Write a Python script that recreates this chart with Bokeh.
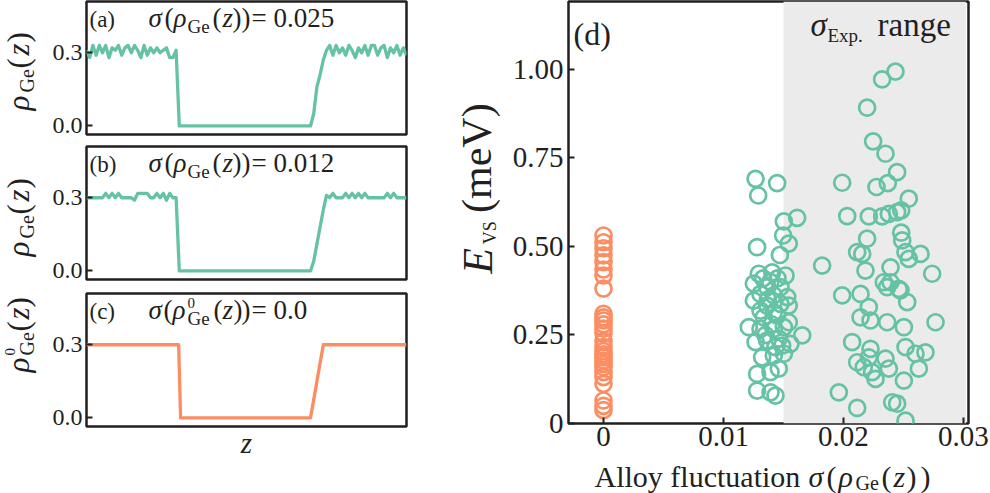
import math
from bokeh.plotting import figure
from bokeh.models import Range1d, FixedTicker, Label, BoxAnnotation
from bokeh.layouts import row, column
from bokeh.embed import file_html
from bokeh.resources import INLINE

TEAL = "#66c2a5"
ORANGE = "#fc8d62"
INK = "#231f20"
SHADE = "#ebebeb"
FONT = "Liberation Serif"

# ---------------- data: composition profiles (panels a-c) ----------------
z_prof = [0, 1, 2, 3, 4, 5, 6, 7, 8, 9, 10, 11, 12, 13, 14, 15, 16, 17, 18, 19,
          20, 21, 22, 23, 24, 25, 26, 27, 28, 29, 70, 71, 72, 73, 74,
          75, 76, 77, 78, 79, 80, 81, 82, 83, 84, 85, 86, 87, 88, 89, 90,
          91, 92, 93, 94, 95, 96, 97, 98, 99, 100]
rho_a = [0.31, 0.28, 0.33, 0.29, 0.33, 0.30, 0.33, 0.28, 0.32, 0.31, 0.33, 0.29, 0.32, 0.33,
         0.30, 0.33, 0.31, 0.28, 0.33, 0.29, 0.32, 0.30, 0.32, 0.30, 0.31, 0.32, 0.28, 0.28, 0.31,
         0.0, 0.0, 0.05, 0.16, 0.21, 0.27,
         0.31, 0.33, 0.29, 0.33, 0.30, 0.32, 0.29, 0.33, 0.31, 0.28, 0.32, 0.30, 0.33, 0.29,
         0.33, 0.33, 0.29, 0.32, 0.33, 0.28, 0.32, 0.30, 0.33, 0.29, 0.32, 0.29]
rho_b = [0.30, 0.30, 0.30, 0.30, 0.30, 0.30, 0.318, 0.30, 0.318, 0.30, 0.318, 0.30, 0.30, 0.30,
         0.30, 0.29, 0.318, 0.318, 0.318, 0.318, 0.30, 0.30, 0.318, 0.30, 0.318, 0.29, 0.318, 0.30, 0.30,
         0.0, 0.0, 0.04, 0.11, 0.18, 0.25,
         0.31, 0.30, 0.318, 0.30, 0.30, 0.30, 0.318, 0.30, 0.318, 0.30, 0.318, 0.30, 0.318, 0.30,
         0.30, 0.30, 0.30, 0.30, 0.30, 0.318, 0.30, 0.318, 0.30, 0.30, 0.30, 0.30]
z_clean = [0, 28.8, 29.4, 70, 74, 100]
rho_clean = [0.3, 0.3, 0.0, 0.0, 0.3, 0.3]
rho_ticks = [0.0, 0.3]
rho_tick_labels = ["0.0", "0.3"]

# ---------------- data: valley splitting vs alloy fluctuation (panel d) ----------------
evs_flat = [0.531, 0.512, 0.495, 0.475, 0.456, 0.435, 0.418, 0.381, 0.310, 0.300, 0.291, 0.280,
            0.268, 0.255, 0.232, 0.216, 0.205, 0.195, 0.187, 0.178, 0.168, 0.159, 0.145, 0.131,
            0.112, 0.065, 0.050, 0.038]
sig_flat = [0.0, 0.0, 0.0, 0.0, 0.0, 0.0, 0.0, 0.0, 0.0, 0.0, 0.0, 0.0, 0.0, 0.0,
            0.0, 0.0, 0.0, 0.0, 0.0, 0.0, 0.0, 0.0, 0.0, 0.0, 0.0, 0.0, 0.0, 0.0]

sig_fluct = [0.01267, 0.01447, 0.01289, 0.01503, 0.01614, 0.01497, 0.0128, 0.01544, 0.0147,
             0.01294, 0.01406, 0.01517, 0.01253, 0.01364, 0.01475, 0.01308, 0.01419, 0.01531,
             0.01253, 0.01364, 0.01475, 0.01544, 0.01308, 0.01419, 0.01336, 0.01447, 0.01544,
             0.01211, 0.01308, 0.01419, 0.01503, 0.01656, 0.01267, 0.01364, 0.01433, 0.01489,
             0.01558, 0.01322, 0.01419, 0.01503, 0.01461, 0.0128, 0.01392, 0.0128, 0.01392, 0.01433,
             0.0133, 0.0139, 0.0145, 0.0137, 0.0140, 0.0135, 0.0146,
             0.02433, 0.02322, 0.02197, 0.02247, 0.0235, 0.02447, 0.01989, 0.02275, 0.02369, 0.02544,
             0.02031, 0.02211, 0.02322, 0.02378, 0.02447, 0.02481, 0.02481, 0.02197, 0.02114, 0.02156,
             0.02489, 0.02517, 0.02544, 0.02642, 0.01822, 0.02392, 0.02739, 0.02336, 0.02392, 0.02364,
             0.02461, 0.02142, 0.01989, 0.02475, 0.02531, 0.02211, 0.02142, 0.02225, 0.02364, 0.02503,
             0.02767, 0.02072, 0.02225, 0.02517, 0.026, 0.02683, 0.02114, 0.02211, 0.0235, 0.02169,
             0.02239, 0.02378, 0.02628, 0.02267, 0.02503, 0.01961, 0.02406, 0.02447, 0.02114, 0.02517,
             0.02183]
evs_fluct = [0.691, 0.679, 0.644, 0.571, 0.581, 0.531, 0.498, 0.508, 0.476,
             0.423, 0.427, 0.418, 0.395, 0.385, 0.385, 0.366, 0.362, 0.357,
             0.347, 0.333, 0.338, 0.333, 0.319, 0.314, 0.300, 0.305, 0.286,
             0.272, 0.267, 0.267, 0.272, 0.249, 0.230, 0.234, 0.216, 0.220,
             0.225, 0.187, 0.192, 0.197, 0.155, 0.140, 0.145, 0.093, 0.088, 0.079,
             0.410, 0.400, 0.410, 0.350, 0.280, 0.250, 0.240,
             0.994, 0.972, 0.892, 0.797, 0.762, 0.710, 0.680, 0.668, 0.679, 0.635,
             0.586, 0.585, 0.585, 0.592, 0.597, 0.602, 0.539, 0.522, 0.484, 0.479,
             0.517, 0.484, 0.465, 0.479, 0.446, 0.441, 0.423, 0.399, 0.399, 0.385,
             0.380, 0.366, 0.362, 0.376, 0.343, 0.329, 0.300, 0.291, 0.286, 0.272,
             0.286, 0.230, 0.211, 0.216, 0.197, 0.201, 0.173, 0.187, 0.183, 0.159,
             0.145, 0.155, 0.155, 0.126, 0.121, 0.088, 0.060, 0.056, 0.044, 0.008,
             0.432]

sig_ticks = [0.0, 0.01, 0.02, 0.03]
sig_tick_labels = ["0", "0.01", "0.02", "0.03"]
evs_ticks = [0.0, 0.25, 0.5, 0.75, 1.0]
evs_tick_labels = ["0", "0.25", "0.50", "0.75", "1.00"]
exp_range = (0.015, 0.0302)

# ---------------- geometry ----------------
Z_RANGE = (0, 100)
RHO_RANGE = (-0.035, 0.51)
SIG_RANGE = (-0.002917, 0.030417)
EVS_RANGE = (0.0, 1.192)
UP = math.pi / 2
K_BASE = 0.32   # empirical baseline correction (fraction of font size)


class Geo:
    def __init__(self, ox, oy, bl, bt, fw, fh, xr, yr):
        self.ox, self.oy, self.bl, self.bt, self.fw, self.fh = ox, oy, bl, bt, fw, fh
        self.xr, self.yr = xr, yr

    def data(self, gx, gy):
        fx = gx - self.ox - self.bl
        fy = gy - self.oy - self.bt
        x = self.xr[0] + fx / self.fw * (self.xr[1] - self.xr[0])
        y = self.yr[1] - fy / self.fh * (self.yr[1] - self.yr[0])
        return x, y


def put(p, geo, gx, gy, text, size, style="normal", angle=0.0, align="left"):
    d = K_BASE * size
    if angle == 0.0:
        gy -= d
    else:
        gx -= d
    x, y = geo.data(gx, gy)
    p.add_layout(Label(x=x, y=y, text=text, text_font=FONT, text_font_size=f"{size}px",
                       text_font_style=style, text_color=INK, angle=angle,
                       text_align=align, text_baseline="alphabetic"))


def style_axis(ax, size, standoff):
    ax.axis_line_color = None
    ax.major_tick_in = 6
    ax.major_tick_out = 0
    ax.major_tick_line_width = 2
    ax.major_tick_line_color = INK
    ax.minor_tick_line_color = None
    ax.major_label_text_font = FONT
    ax.major_label_text_font_size = f"{size}px"
    ax.major_label_text_color = INK
    ax.major_label_standoff = standoff


def finish(p, outline=True):
    p.grid.visible = False
    p.outline_line_color = INK if outline else None
    p.outline_line_width = 2.5
    p.background_fill_color = "white"
    p.border_fill_color = "white"


def strip(w, h, ox, oy):
    s = figure(width=w, height=h, x_range=Range1d(0, w), y_range=Range1d(0, h),
               min_border_left=0, min_border_right=0, min_border_top=0, min_border_bottom=0,
               toolbar_location=None, output_backend="svg",
               x_axis_location=None, y_axis_location=None)
    finish(s, outline=False)
    return s, Geo(ox, oy, 0, 0, w, h, (0, w), (0, h))


def left_panel(height, top, bottom, z, rho, color, xlabel=None):
    p = figure(width=376, height=height, x_range=Range1d(*Z_RANGE), y_range=Range1d(*RHO_RANGE),
               min_border_left=42, min_border_right=14, min_border_top=top, min_border_bottom=bottom,
               toolbar_location=None, output_backend="svg",
               x_axis_location="below" if xlabel else None)
    p.line(z, rho, line_color=color, line_width=3.3, line_join="round")
    ax = p.yaxis[0]
    ax.ticker = FixedTicker(ticks=rho_ticks)
    ax.major_label_overrides = dict(zip(rho_ticks, rho_tick_labels))
    style_axis(ax, 24, 4)
    if xlabel:
        xa_ = p.xaxis[0]
        xa_.ticker = FixedTicker(ticks=[])
        xa_.axis_line_color = None
        xa_.major_tick_line_color = None
        xa_.minor_tick_line_color = None
        xa_.major_tick_out = 0
        xa_.major_label_standoff = 0
        xa_.major_label_text_font_size = "0px"
        xa_.axis_label = xlabel
        xa_.axis_label_text_font = FONT
        xa_.axis_label_text_font_size = "29px"
        xa_.axis_label_text_font_style = "italic"
        xa_.axis_label_text_color = INK
        xa_.axis_label_standoff = 0
    finish(p)
    return p


# ---------------- panels a-c ----------------
pa = left_panel(140, 1, 6, z_prof, rho_a, TEAL)
pb = left_panel(146, 6, 7, z_prof, rho_b, TEAL)
pc = left_panel(207, 7, 67, z_clean, rho_clean, ORANGE, xlabel="z")

geo_a = Geo(44, 0, 42, 1, 320, 133, Z_RANGE, RHO_RANGE)
geo_b = Geo(44, 140, 42, 6, 320, 133, Z_RANGE, RHO_RANGE)
geo_c = Geo(44, 286, 42, 7, 320, 133, Z_RANGE, RHO_RANGE)

for p, g, letter, top, val in [(pa, geo_a, "(a)", 1, "= 0.025"), (pb, geo_b, "(b)", 146, "= 0.012")]:
    bl = top + 25
    put(p, g, 89, bl, letter, 23)
    put(p, g, 148, bl, "σ", 27, "italic")
    put(p, g, 164, bl, "(", 27)
    put(p, g, 173, bl, "ρ", 27, "italic")
    put(p, g, 187, bl + 6, "Ge", 19)
    put(p, g, 212, bl, "(", 27)
    put(p, g, 222, bl, "z", 27, "italic")
    put(p, g, 232, bl, ")", 27)
    put(p, g, 241, bl, ")", 27)
    put(p, g, 251, bl, val, 27)

blc = 293 + 25
put(pc, geo_c, 89, blc, "(c)", 23)
put(pc, geo_c, 148, blc, "σ", 27, "italic")
put(pc, geo_c, 163, blc, "(", 27)
put(pc, geo_c, 172, blc, "ρ", 27, "italic")
put(pc, geo_c, 187, blc - 11, "0", 15)
put(pc, geo_c, 187, blc + 6, "Ge", 19)
put(pc, geo_c, 213, blc, "(", 27)
put(pc, geo_c, 222, blc, "z", 27, "italic")
put(pc, geo_c, 233, blc, ")", 27)
put(pc, geo_c, 241, blc, ")", 27)
put(pc, geo_c, 251, blc, "= 0.0", 27)

# rotated y labels of the profile panels (strip at the far left)
s_rho, g_rho = strip(44, 493, 0, 0)
for s in (0, 146):
    put(s_rho, g_rho, 28, 110 + s, "ρ", 31, "italic", UP)
    put(s_rho, g_rho, 33, 92 + s, "Ge", 20, "normal", UP)
    put(s_rho, g_rho, 28, 68 + s, "(", 31, "normal", UP)
    put(s_rho, g_rho, 28, 55 + s, "z", 31, "italic", UP)
    put(s_rho, g_rho, 28, 42 + s, ")", 31, "normal", UP)
put(s_rho, g_rho, 28, 372, "ρ", 31, "italic", UP)
put(s_rho, g_rho, 14, 355, "0", 15, "normal", UP)
put(s_rho, g_rho, 33, 355, "Ge", 20, "normal", UP)
put(s_rho, g_rho, 28, 331, "(", 31, "normal", UP)
put(s_rho, g_rho, 28, 319, "z", 31, "italic", UP)
put(s_rho, g_rho, 28, 307, ")", 31, "normal", UP)

# ---------------- panel d ----------------
pd_ = figure(width=488, height=459, x_range=Range1d(*SIG_RANGE), y_range=Range1d(*EVS_RANGE),
             min_border_left=66, min_border_right=22, min_border_top=1, min_border_bottom=36,
             toolbar_location=None, output_backend="svg")
pd_.add_layout(BoxAnnotation(left=exp_range[0], right=exp_range[1], fill_color=SHADE, fill_alpha=1.0,
                             line_color=None, level="underlay"))
pd_.scatter(sig_flat, evs_flat, marker="circle", size=16, fill_color=None,
            line_color=ORANGE, line_width=2.7)
pd_.scatter(sig_fluct, evs_fluct, marker="circle", size=16, fill_color=None,
            line_color=TEAL, line_width=2.7)

xa = pd_.xaxis[0]
xa.ticker = FixedTicker(ticks=sig_ticks)
xa.major_label_overrides = dict(zip(sig_ticks, sig_tick_labels))
style_axis(xa, 29, 3)
ya = pd_.yaxis[0]
ya.ticker = FixedTicker(ticks=evs_ticks)
ya.major_label_overrides = dict(zip(evs_ticks, evs_tick_labels))
style_axis(ya, 29, 5)
finish(pd_)

geo_d = Geo(502, 0, 66, 1, 400, 422, SIG_RANGE, EVS_RANGE)
put(pd_, geo_d, 573, 44, "(d)", 32)
put(pd_, geo_d, 810, 35, "σ", 33, "italic")
put(pd_, geo_d, 827, 41, "Exp.", 19)
put(pd_, geo_d, 877, 35, "range", 33)

# y label E_VS (meV) in a strip left of panel d
s_e, g_e = strip(82, 459, 420, 0)
put(s_e, g_e, 491, 296, "E", 42, "italic", UP)
put(s_e, g_e, 495, 264, "VS", 18, "normal", UP)
put(s_e, g_e, 490, 230, "(meV)", 42, "normal", UP)

# x label in a strip below panel d
s_x, g_x = strip(570, 34, 420, 459)
xb = 486
put(s_x, g_x, 594, xb, "Alloy fluctuation", 30)
put(s_x, g_x, 808, xb, "σ", 30, "italic")
put(s_x, g_x, 826, xb, "(", 30)
put(s_x, g_x, 838, xb, "ρ", 30, "italic")
put(s_x, g_x, 855, xb + 2.5, "Ge", 20)
put(s_x, g_x, 881, xb, "(", 30)
put(s_x, g_x, 893, xb, "z", 30, "italic")
put(s_x, g_x, 906, xb, ")", 30)
put(s_x, g_x, 920, xb, ")", 30)

left = row(s_rho, column(pa, pb, pc))
right = column(row(s_e, pd_), s_x)
layout = row(left, right)
open("out.html", "w").write(file_html(layout, INLINE))
